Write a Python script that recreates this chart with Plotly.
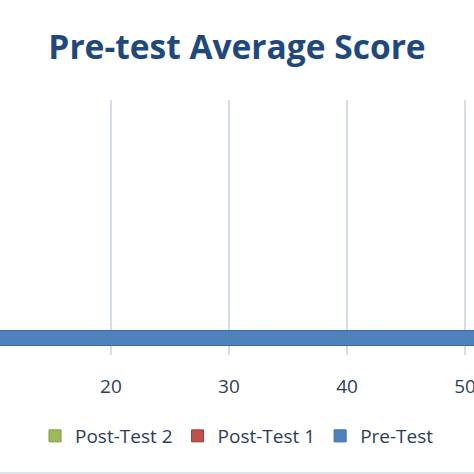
import plotly.graph_objects as go

# séries do gráfico (apenas a barra do pré-teste aparece no recorte)
pre_test = [56.0]
post_test_1 = [None]
post_test_2 = [None]
ticks_x = [10, 20, 30, 40, 50]

cor_texto = "#2c3e57"
cor_grade = "#d5dde9"

fig = go.Figure()
# ordem da legenda: Post-Test 2, Post-Test 1, Pre-Test
fig.add_trace(go.Bar(name="Post-Test 2", y=[0], x=post_test_2, orientation="h",
                     marker=dict(color="#9BBB59", line=dict(color="#7f9c44", width=1)), width=0.59))
fig.add_trace(go.Bar(name="Post-Test 1", y=[0], x=post_test_1, orientation="h",
                     marker=dict(color="#C0504D", line=dict(color="#9c3a37", width=1)), width=0.59))
fig.add_trace(go.Bar(name="Pre-Test", y=[0], x=pre_test, orientation="h",
                     marker=dict(color="#4F81BD", line=dict(color="#3a6ba8", width=1)), width=0.59))

fig.update_layout(
    width=474, height=474,
    margin=dict(l=0, r=0, t=100, b=119),
    paper_bgcolor="white", plot_bgcolor="white",
    barmode="overlay",
    showlegend=True,
    title=dict(text="<b>Pre-test Average Score</b>", x=0.5, xanchor="center",
               y=1 - 47 / 474, yanchor="middle", pad=dict(l=0, r=0),
               font=dict(family="Open Sans", size=33.5, color="#1F497D")),
    legend=dict(orientation="h", x=0.5, xanchor="center", y=-(436 - 355) / 255, yanchor="middle",
                traceorder="normal", font=dict(family="Open Sans", size=19, color=cor_texto),
                itemwidth=30),
    font=dict(family="Open Sans", color=cor_texto),
    shapes=[dict(type="line", xref="paper", yref="paper", x0=0, x1=1,
                 y0=-(473 - 355) / 255, y1=-(473 - 355) / 255,
                 line=dict(color="#dde4ee", width=2))],
)
fig.update_xaxes(range=[10.6, 50.76], tickvals=ticks_x, showgrid=True, gridcolor=cor_grade,
                 gridwidth=1.5, zeroline=False, showline=False, ticks="",
                 ticklabelstandoff=18, ticklabeloverflow="allow",
                 tickfont=dict(size=19, color=cor_texto), automargin=False)
fig.update_yaxes(range=[-0.667, 9.333], showticklabels=False, showgrid=False, zeroline=False,
                 showline=False, automargin=False)

# tira a margem padrão do body para o gráfico ocupar a janela toda
fig.write_html("out.html", config={"responsive": False, "displayModeBar": False},
               post_script="document.body.style.margin='0';document.body.style.overflow='hidden';")
